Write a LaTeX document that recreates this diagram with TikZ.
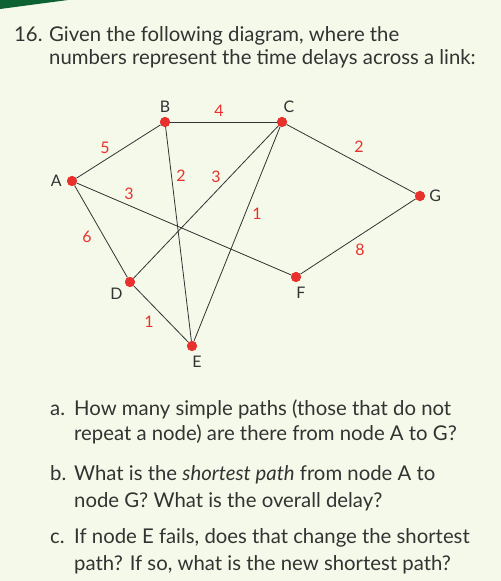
\documentclass[tikz,border=0pt]{standalone}
\usepackage{fontspec}
\setmainfont{Lato}
\usetikzlibrary{positioning}
\definecolor{pagebg}{HTML}{F4F9E9}
\definecolor{bargreen}{HTML}{0D6233}
\definecolor{dotred}{HTML}{E8312C}
\definecolor{inkgray}{HTML}{333333}
\tikzset{
  dot/.style={circle, fill=dotred, inner sep=0pt, minimum size=10bp},
  lbl/.style={text=inkgray, font=\fontsize{16}{19}\selectfont, inner sep=1pt},
  wt/.style={text=dotred, font=\fontsize{16}{19}\selectfont, inner sep=1pt},
  link/.style={draw=inkgray, line width=0.8bp},
  txt/.style={text=inkgray, font=\fontsize{20.4}{24}\selectfont, anchor=base west, inner sep=0pt}
}
\begin{document}
\begin{tikzpicture}[x=1bp, y=-1bp]
  \useasboundingbox (0,0) rectangle (501,581);
  \fill[pagebg] (0,0) rectangle (501,581);
  \fill[bargreen] (0,0) -- (68,0) -- (0,9) -- cycle;
  % question text
  \node[txt] (qnum) at (14,42) {16.};
  \node[txt] (q1) at (49,42) {Given the following diagram, where the};
  \node[txt] (q2) at (49,65) {numbers represent the time delays across a link:};
  % nodes of the network
  \node[dot, label={[lbl, label distance=4pt]left:A}] (A) at (72,181) {};
  \node[dot, label={[lbl, label distance=3pt]above:B}] (B) at (165,122) {};
  \node[dot, label={[lbl, label distance=3pt, xshift=7pt]above:C}] (C) at (282,122) {};
  \node[dot, label={[lbl, label distance=1pt, xshift=-2pt]below left:D}] (D) at (130,282) {};
  \node[dot, label={[lbl, label distance=4pt, xshift=5pt]below:E}] (E) at (192,346) {};
  \node[dot, label={[lbl, label distance=4pt, xshift=5pt]below:F}] (F) at (296,277) {};
  \node[dot, label={[lbl, label distance=3pt]right:G}] (G) at (420,196) {};
  % links
  \draw[link] (A) -- (B);
  \draw[link] (B) -- (C);
  \draw[link] (A) -- (D);
  \draw[link] (A) -- (F);
  \draw[link] (B) -- (E);
  \draw[link] (C) -- (D);
  \draw[link] (C) -- (E);
  \draw[link] (C) -- (G);
  \draw[link] (D) -- (E);
  \draw[link] (F) -- (G);
  % redraw the dots over the links
  \foreach \n in {A,B,C,D,E,F,G}
    \fill[dotred] (\n) circle (5bp);
  % delays
  \node[wt] (wAB) at (105,148) {5};
  \node[wt] (wBC) at (219,111) {4};
  \node[wt] (wBE) at (181,176) {2};
  \node[wt] (wCD) at (216,177) {3};
  \node[wt] (wAF) at (129,194) {3};
  \node[wt] (wAD) at (87,237) {6};
  \node[wt] (wCE) at (257,214) {1};
  \node[wt] (wDE) at (149,322) {1};
  \node[wt] (wCG) at (359,147) {2};
  \node[wt] (wFG) at (360,250) {8};
  % parts of the question
  \node[txt] (pa) at (50,415) {a.};
  \node[txt] (pa1) at (74,415) {How many simple paths (those that do not};
  \node[txt] (pa2) at (74,440) {repeat a node) are there from node A to G?};
  \node[txt] (pb) at (50,480) {b.};
  \node[txt] (pb1) at (74,480) {What is the \emph{shortest path} from node A to};
  \node[txt] (pb2) at (74,507) {node G? What is the overall delay?};
  \node[txt] (pc) at (50,543) {c.};
  \node[txt] (pc1) at (74,543) {If node E fails, does that change the shortest};
  \node[txt] (pc2) at (74,570) {path? If so, what is the new shortest path?};
\end{tikzpicture}
\end{document}
